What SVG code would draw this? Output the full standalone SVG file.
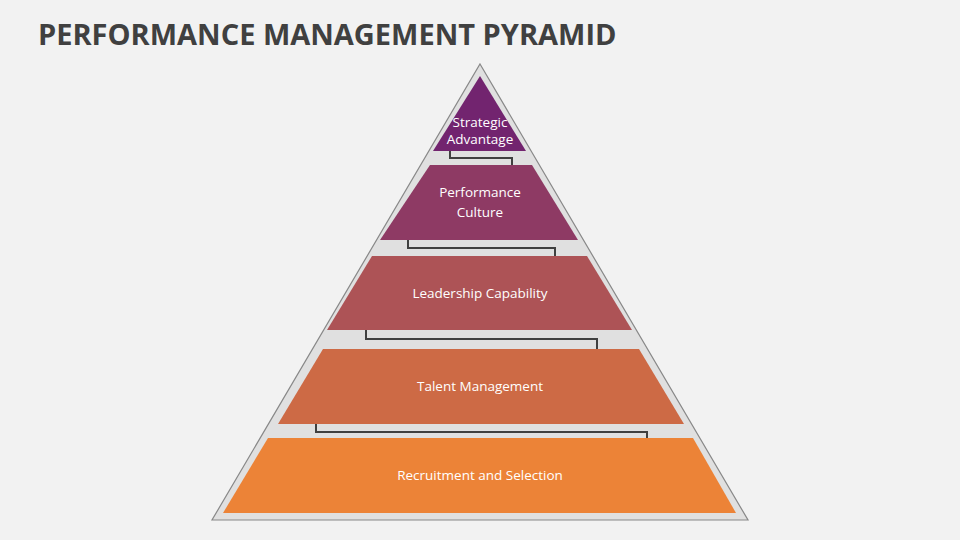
<svg xmlns="http://www.w3.org/2000/svg" width="960" height="540" viewBox="0 0 960 540">
<style>
.lbl{font-family:"Open Sans","Liberation Sans",sans-serif;font-size:13.5px;fill:#fff;text-anchor:middle}
.con{fill:none;stroke:#404040;stroke-width:2}
</style>
<rect width="960" height="540" fill="#f2f2f2"/>
<text x="38" y="45" font-family="'Open Sans','Liberation Sans',sans-serif" font-weight="bold" font-size="29" fill="#404040">PERFORMANCE MANAGEMENT PYRAMID</text>
<polygon points="480,64 748,520 212,520" fill="#e0e0e0" stroke="#888" stroke-width="1.2"/>
<g id="connectors">
<polyline class="con" points="450,151 450,158 512,158 512,165"/>
<polyline class="con" points="408,240 408,248 555,248 555,256"/>
<polyline class="con" points="366,330 366,339 597,339 597,349"/>
<polyline class="con" points="316,424 316,432 647,432 647,438"/>
</g>
<g id="strategic"><polygon points="480,76 526,151 433,151" fill="#72246f"/><text class="lbl" font-size="12" x="480" y="127">Strategic</text><text class="lbl" font-size="12" x="480" y="144">Advantage</text></g>
<g id="culture"><polygon points="430,165 532,165 578,240 380,240" fill="#8e3a64"/><text class="lbl" x="480" y="197">Performance</text><text class="lbl" x="480" y="217">Culture</text></g>
<g id="leadership"><polygon points="372,256 587,256 632,330 327,330" fill="#ad5356"/><text class="lbl" x="480" y="298">Leadership Capability</text></g>
<g id="talent"><polygon points="323,349 639,349 684,424 278,424" fill="#cd6a45"/><text class="lbl" x="480" y="391">Talent Management</text></g>
<g id="recruitment"><polygon points="268,438 693,438 736,513 223,513" fill="#ec8337"/><text class="lbl" x="480" y="480">Recruitment and Selection</text></g>
</svg>
